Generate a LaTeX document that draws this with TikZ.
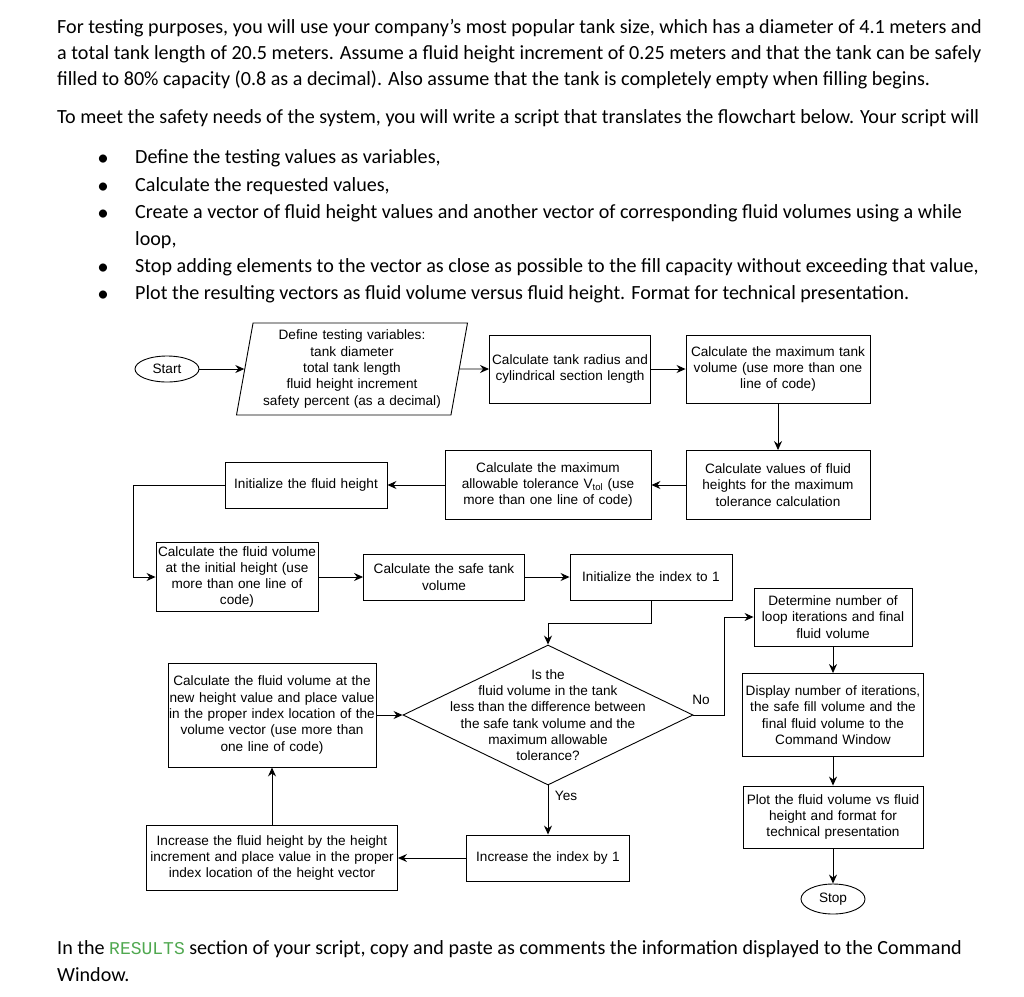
\documentclass[tikz,border=0pt]{standalone}
\usepackage{fontspec}
\setmainfont{Carlito}
\setmonofont{Liberation Mono}
\newfontfamily\flowfont{Liberation Sans}
\usetikzlibrary{positioning, arrows.meta}
\usetikzlibrary{shapes.geometric}
\definecolor{resultsgreen}{RGB}{80,168,80}

\tikzset{
  bodytext/.style={anchor=base west, inner sep=0pt, font=\fontsize{20.1}{24}\selectfont},
  bulletmark/.style={anchor=base, inner sep=0pt, font=\fontsize{23}{23}\selectfont},
  flowtext/.style={align=center, inner sep=0pt, font=\flowfont\fontsize{13.6}{16.3}\selectfont},
  procbox/.style={draw, flowtext, line width=0.9pt},
  termnode/.style={draw, ellipse, flowtext, line width=0.9pt},
  ionode/.style={draw, trapezium, trapezium left angle=78, trapezium right angle=102,
    trapezium stretches body, flowtext, line width=0.9pt},
  decnode/.style={draw, diamond, inner sep=0pt, line width=0.9pt},
  flowline/.style={line width=0.9pt, -{Stealth[length=9pt, width=8pt, inset=3pt]}},
}

\begin{document}
\begin{tikzpicture}[x=1pt, y=-1pt]
\useasboundingbox (0,0) rectangle (1024,996);

% task text
\node [bodytext] (intro1) at (57,33) {For testing purposes, you will use your company’s most popular tank size, which has a diameter of 4.1 meters and};
\node [bodytext] (intro2) at (57,59) {a total tank length of 20.5 meters. Assume a fluid height increment of 0.25 meters and that the tank can be safely};
\node [bodytext] (intro3) at (57,85) {filled to 80\% capacity (0.8 as a decimal). Also assume that the tank is completely empty when filling begins.};
\node [bodytext] (intro4) at (57,123) {To meet the safety needs of the system, you will write a script that translates the flowchart below. Your script will};

\node [bulletmark] (b1) at (103,165) {\textbullet};
\node [bodytext] (item1) at (135,163) {Define the testing values as variables,};
\node [bulletmark] (b2) at (103,193) {\textbullet};
\node [bodytext] (item2) at (135,191) {Calculate the requested values,};
\node [bulletmark] (b3) at (103,220) {\textbullet};
\node [bodytext] (item3) at (135,218) {Create a vector of fluid height values and another vector of corresponding fluid volumes using a while};
\node [bodytext] (item3b) at (135,245) {loop,};
\node [bulletmark] (b4) at (103,274) {\textbullet};
\node [bodytext] (item4) at (135,272) {Stop adding elements to the vector as close as possible to the fill capacity without exceeding that value,};
\node [bulletmark] (b5) at (103,301) {\textbullet};
\node [bodytext] (item5) at (135,299) {Plot the resulting vectors as fluid volume versus fluid height. Format for technical presentation.};

% flowchart
\node [termnode, minimum width=64pt, minimum height=26pt] (start) at (167,369) {Start};
\node [ionode, text width=188pt, minimum width=231pt, minimum height=92pt] (define) at (352,369)
  {Define testing variables:\\ tank diameter\\ total tank length\\ fluid height increment\\ safety percent (as a decimal)};
\node [procbox, text width=161pt, minimum height=68pt] (radius) at (570,369)
  {Calculate tank radius and\\ cylindrical section length};
\node [procbox, text width=184pt, minimum height=68pt] (maxvol) at (778,369)
  {Calculate the maximum tank\\ volume (use more than one\\ line of code)};
\node [procbox, text width=184pt, minimum height=69pt] (fluidh) at (778,485)
  {Calculate values of fluid\\ heights for the maximum\\ tolerance calculation};
\node [procbox, text width=206pt, minimum height=69pt] (vtol) at (548,485)
  {Calculate the maximum\\ allowable tolerance V\textsubscript{tol} (use\\ more than one line of code)};
\node [procbox, text width=162pt, minimum height=46pt] (inith) at (306,485)
  {Initialize the fluid height};
\node [procbox, text width=162pt, minimum height=69pt] (vinit) at (237,577)
  {Calculate the fluid volume\\ at the initial height (use\\ more than one line of\\ code)};
\node [procbox, text width=161pt, minimum height=46pt] (vsafe) at (444,577)
  {Calculate the safe tank\\ volume};
\node [procbox, text width=162pt, minimum height=46pt] (index) at (651,577)
  {Initialize the index to 1};
\node [decnode, minimum width=290pt, minimum height=140pt] (Q1) at (548,715) {};
\node [flowtext] (Q2) at (Q1.center)
  {Is the\\ fluid volume in the tank\\ less than the difference between\\ the safe tank volume and the\\ maximum allowable\\ tolerance?};
\node [procbox, text width=208pt, minimum height=104pt] (vnew) at (272,715)
  {Calculate the fluid volume at the\\ new height value and place value\\ in the proper index location of the\\ volume vector (use more than\\ one line of code)};
\node [procbox, text width=163pt, minimum height=46pt] (incidx) at (548,858)
  {Increase the index by 1};
\node [procbox, text width=251pt, minimum height=65pt] (inch) at (272,858)
  {Increase the fluid height by the height\\ increment and place value in the proper\\ index location of the height vector};
\node [procbox, text width=158pt, minimum height=58pt] (loops) at (833,617)
  {Determine number of\\ loop iterations and final\\ fluid volume};
\node [procbox, text width=181pt, minimum height=83pt] (display) at (833,715)
  {Display number of iterations,\\ the safe fill volume and the\\ final fluid volume to the\\ Command Window};
\node [procbox, text width=180pt, minimum height=62pt] (plot) at (833,817)
  {Plot the fluid volume vs fluid\\ height and format for\\ technical presentation};
\node [termnode, minimum width=64pt, minimum height=30pt] (stop) at (833,899) {Stop};
\node [flowtext] (no) at (701,700) {No};
\node [flowtext] (yes) at (566,796) {Yes};

\draw [flowline] (start) -- (define);
\draw [flowline] (define) -- (radius);
\draw [flowline] (radius) -- (maxvol);
\draw [flowline] (maxvol) -- (fluidh);
\draw [flowline] (fluidh) -- (vtol);
\draw [flowline] (vtol) -- (inith);
\draw [flowline] (inith.west) -- ++(-91,0) |- (vinit.west);
\draw [flowline] (vinit) -- (vsafe);
\draw [flowline] (vsafe) -- (index);
\draw [flowline] (index.south) -- ++(0,23) -| (Q1.north);
\draw [flowline] (Q1.east) -- ++(31,0) |- (loops.west);
\draw [flowline] (loops) -- (display);
\draw [flowline] (display) -- (plot);
\draw [flowline] (plot) -- (stop);
\draw [flowline] (Q1.south) -- (incidx.north);
\draw [flowline] (incidx) -- (inch);
\draw [flowline] (inch) -- (vnew);
\draw [flowline] (vnew.east) -- (Q1.west);

% closing note
\node [bodytext] (note1) at (57,954) {In the {\ttfamily\fontsize{18}{24}\selectfont\color{resultsgreen}RESULTS} section of your script, copy and paste as comments the information displayed to the Command};
\node [bodytext] (note2) at (57,981) {Window.};
\end{tikzpicture}
\end{document}
